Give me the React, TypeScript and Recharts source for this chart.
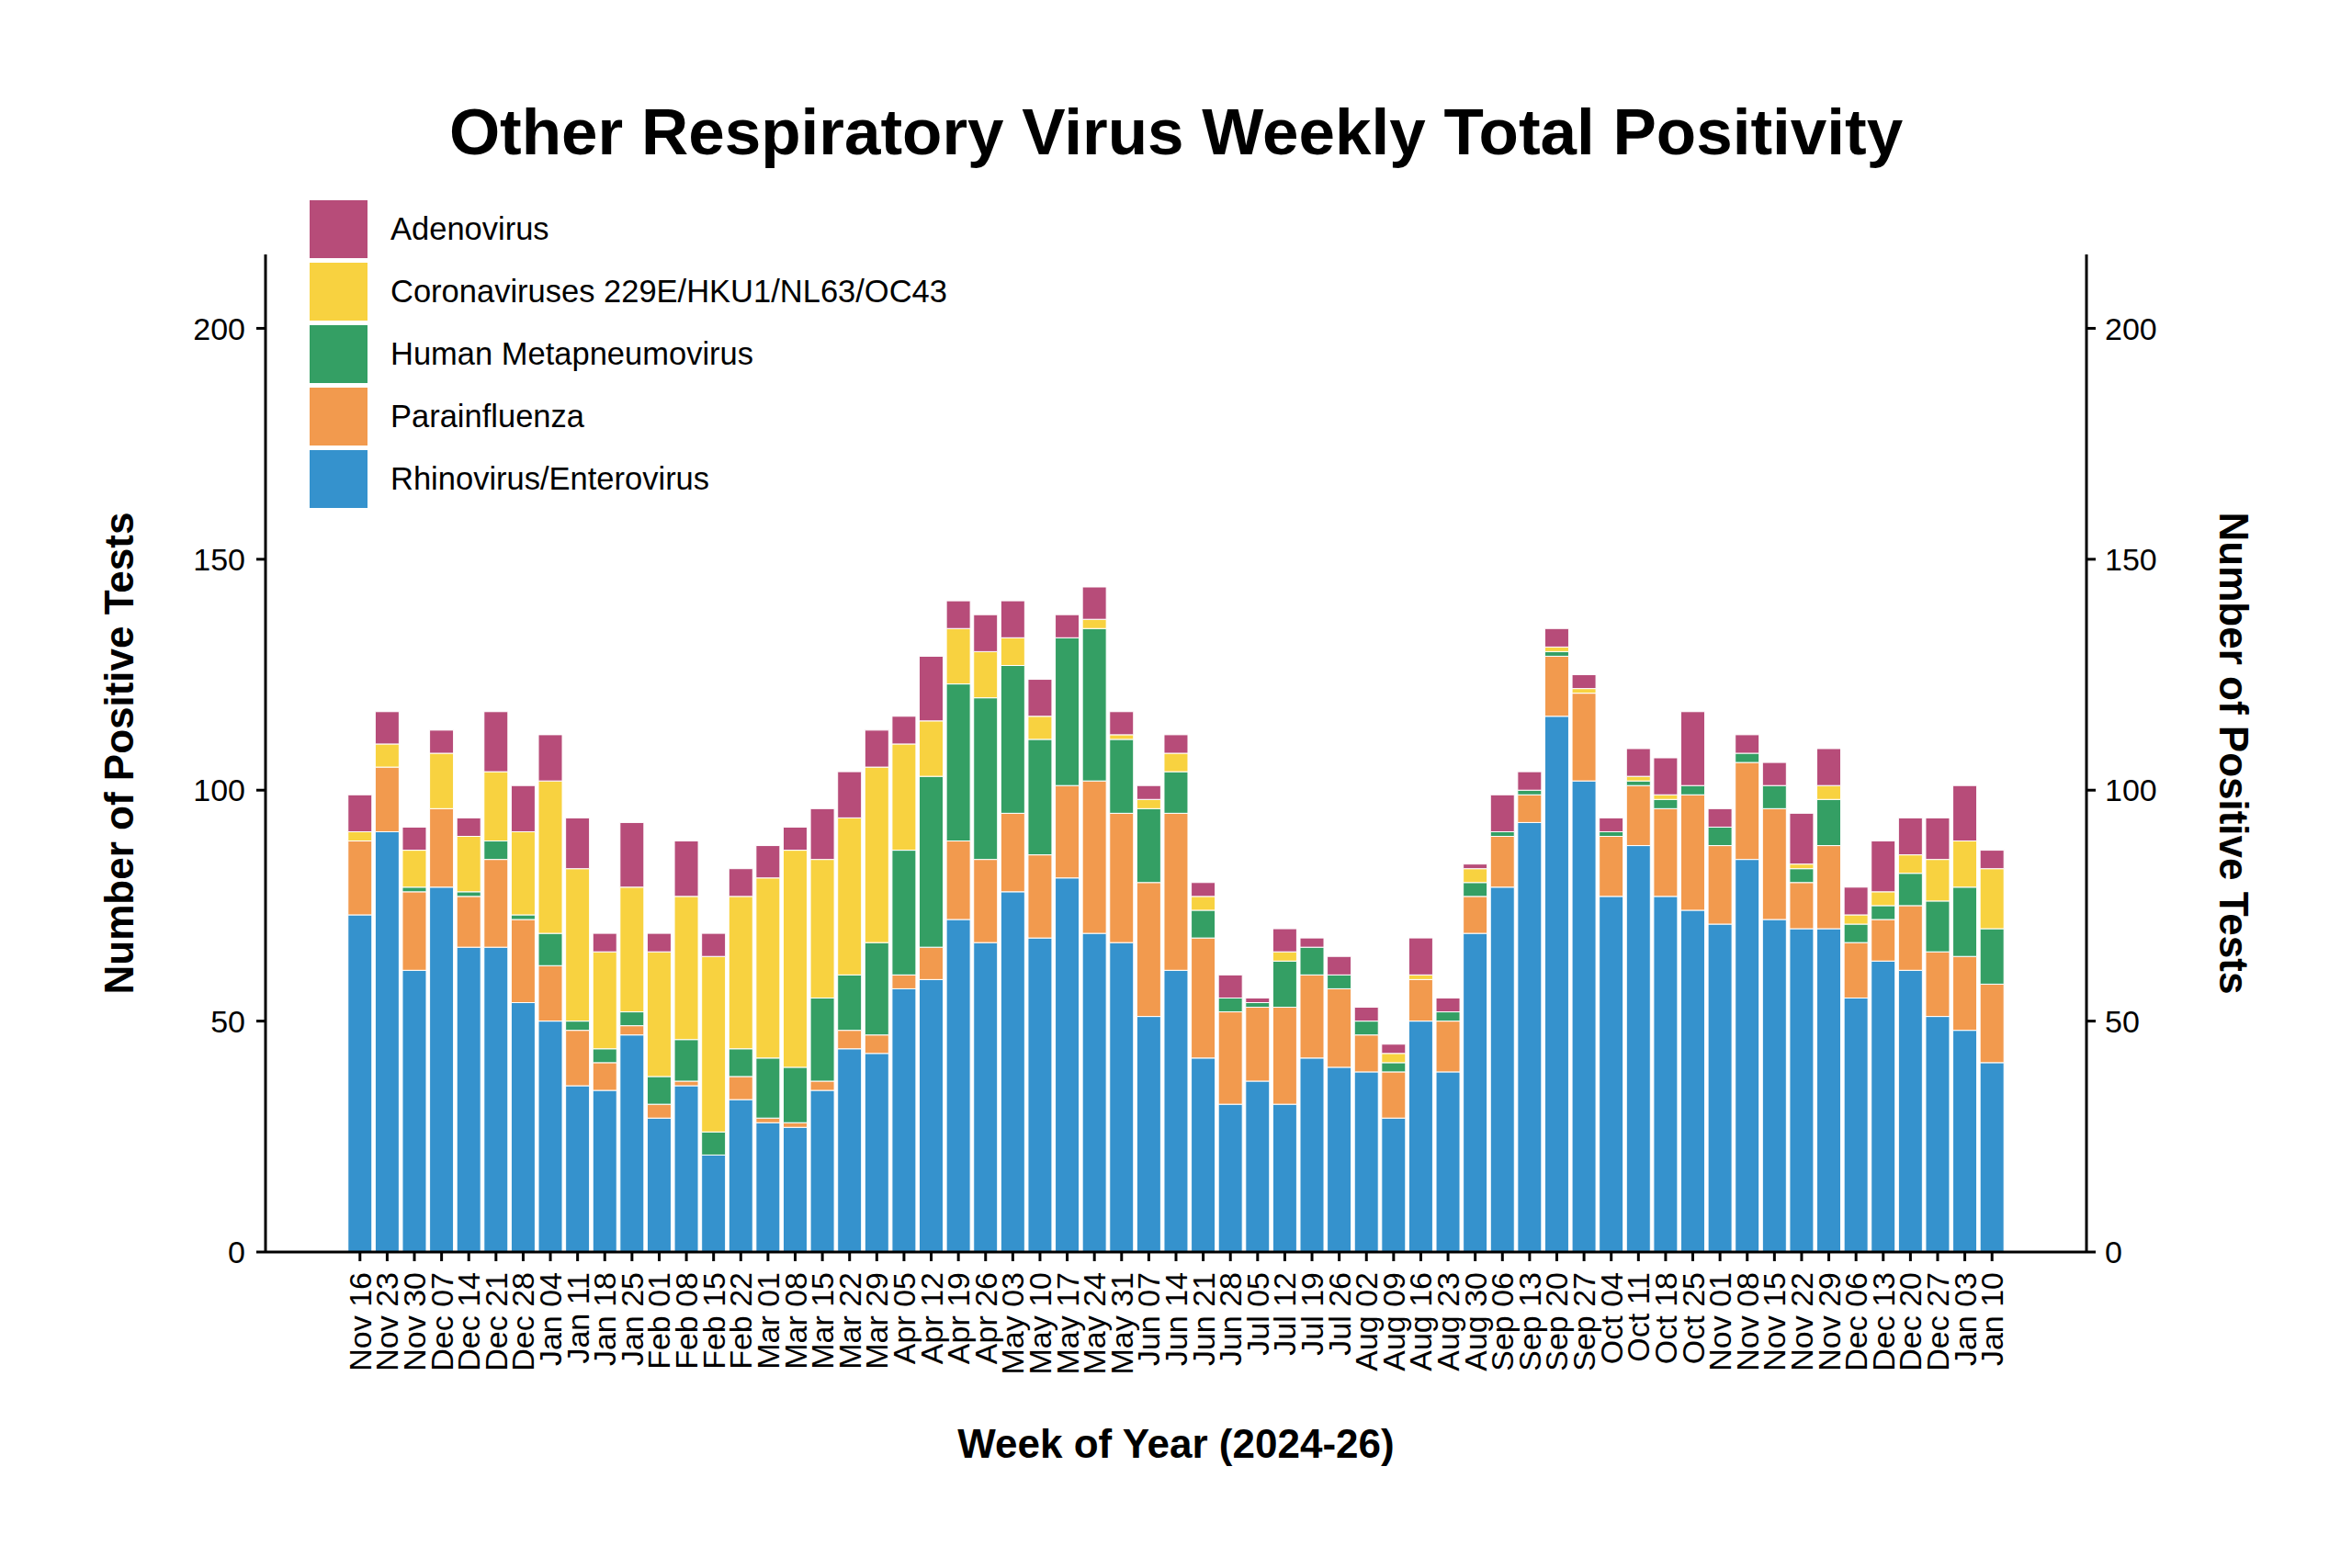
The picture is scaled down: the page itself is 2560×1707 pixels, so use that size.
import React from 'react'
import { BarChart, Bar, XAxis, YAxis, Legend } from 'recharts'

/* Weekly positive tests for the non-flu respiratory viruses, stacked by virus */

const WEEKS = [
  'Nov 16', 'Nov 23', 'Nov 30', 'Dec 07', 'Dec 14', 'Dec 21', 'Dec 28', 'Jan 04', 'Jan 11', 'Jan 18',
  'Jan 25', 'Feb 01', 'Feb 08', 'Feb 15', 'Feb 22', 'Mar 01', 'Mar 08', 'Mar 15', 'Mar 22', 'Mar 29',
  'Apr 05', 'Apr 12', 'Apr 19', 'Apr 26', 'May 03', 'May 10', 'May 17', 'May 24', 'May 31', 'Jun 07',
  'Jun 14', 'Jun 21', 'Jun 28', 'Jul 05', 'Jul 12', 'Jul 19', 'Jul 26', 'Aug 02', 'Aug 09', 'Aug 16',
  'Aug 23', 'Aug 30', 'Sep 06', 'Sep 13', 'Sep 20', 'Sep 27', 'Oct 04', 'Oct 11', 'Oct 18', 'Oct 25',
  'Nov 01', 'Nov 08', 'Nov 15', 'Nov 22', 'Nov 29', 'Dec 06', 'Dec 13', 'Dec 20', 'Dec 27', 'Jan 03',
  'Jan 10',
]

const RHINO = [
  73, 91, 61, 79, 66, 66, 54, 50, 36, 35,
  47, 29, 36, 21, 33, 28, 27, 35, 44, 43,
  57, 59, 72, 67, 78, 68, 81, 69, 67, 51,
  61, 42, 32, 37, 32, 42, 40, 39, 29, 50,
  39, 69, 79, 93, 116, 102, 77, 88, 77, 74,
  71, 85, 72, 70, 70, 55, 63, 61, 51, 48,
  41,
]

const PARAFLU = [
  16, 14, 17, 17, 11, 19, 18, 12, 12, 6,
  2, 3, 1, 0, 5, 1, 1, 2, 4, 4,
  3, 7, 17, 18, 17, 18, 20, 33, 28, 29,
  34, 26, 20, 16, 21, 18, 17, 8, 10, 9,
  11, 8, 11, 6, 13, 19, 13, 13, 19, 25,
  17, 21, 24, 10, 18, 12, 9, 14, 14, 16,
  17,
]

const HMPV = [
  0, 0, 1, 0, 1, 4, 1, 7, 2, 3,
  3, 6, 9, 5, 6, 13, 12, 18, 12, 20,
  27, 37, 34, 35, 32, 25, 32, 33, 16, 16,
  9, 6, 3, 1, 10, 6, 3, 3, 2, 0,
  2, 3, 1, 1, 1, 0, 1, 1, 2, 2,
  4, 2, 5, 3, 10, 4, 3, 7, 11, 15,
  12,
]

const CORONA = [
  2, 5, 8, 12, 12, 15, 18, 33, 33, 21,
  27, 27, 31, 38, 33, 39, 47, 30, 34, 38,
  23, 12, 12, 10, 6, 5, 0, 2, 1, 2,
  4, 3, 0, 0, 2, 0, 0, 0, 2, 1,
  0, 3, 0, 0, 1, 1, 0, 1, 1, 0,
  0, 0, 0, 1, 3, 2, 3, 4, 9, 10,
  13,
]

const ADENO = [
  8, 7, 5, 5, 4, 13, 10, 10, 11, 4,
  14, 4, 12, 5, 6, 7, 5, 11, 10, 8,
  6, 14, 6, 8, 8, 8, 5, 7, 5, 3,
  4, 3, 5, 1, 5, 2, 4, 3, 2, 8,
  3, 1, 8, 4, 4, 3, 3, 6, 8, 16,
  4, 4, 5, 11, 8, 6, 11, 8, 9, 12,
  4,
]

const Y_TICKS = [0, 50, 100, 150, 200]

// stack order, bottom to top
const SERIES = [
  { key: 'rhino', name: 'Rhinovirus/Enterovirus', color: '#3592CD', values: RHINO },
  { key: 'paraflu', name: 'Parainfluenza', color: '#F29A4E', values: PARAFLU },
  { key: 'hmpv', name: 'Human Metapneumovirus', color: '#349F64', values: HMPV },
  { key: 'corona', name: 'Coronaviruses 229E/HKU1/NL63/OC43', color: '#F8D240', values: CORONA },
  { key: 'adeno', name: 'Adenovirus', color: '#B74C79', values: ADENO },
]

const chartData = WEEKS.map((week, i) => {
  const row: Record<string, string | number> = { week }
  SERIES.forEach((s) => {
    row[s.key] = s.values[i]
  })
  return row
})

const FONT = '"Liberation Sans", Arial, Helvetica, sans-serif'
const AXIS_STROKE = { stroke: '#000', strokeWidth: 3 }

function WeekTick({ x, y, payload }: any) {
  return (
    <text
      transform={`translate(${x},${y}) rotate(-90)`}
      textAnchor="end"
      dominantBaseline="central"
      fontSize={34}
      fill="#000"
    >
      {payload.value}
    </text>
  )
}

function YTitle({ viewBox, side }: any) {
  const { x, y, width, height } = viewBox
  const cx = side === 'left' ? x + width - 160 : x + 160
  const cy = y + height / 2
  return (
    <text
      transform={`translate(${cx},${cy}) rotate(${side === 'left' ? -90 : 90})`}
      textAnchor="middle"
      dominantBaseline="central"
      fontSize={44}
      fontWeight={700}
      fill="#000"
    >
      Number of Positive Tests
    </text>
  )
}

function XTitle({ viewBox }: any) {
  const { x, y, width } = viewBox
  return (
    <text x={x + width / 2} y={y + 224} textAnchor="middle" fontSize={44} fontWeight={700} fill="#000">
      Week of Year (2024-26)
    </text>
  )
}

// legend lists the top of the stack first
function VirusLegend() {
  const items = [...SERIES].reverse()
  return (
    <div style={{ display: 'flex', flexDirection: 'column', gap: 5 }}>
      {items.map((s) => (
        <div key={s.key} style={{ display: 'flex', alignItems: 'center', height: 63 }}>
          <span style={{ display: 'inline-block', width: 63, height: 63, background: s.color, marginRight: 25 }} />
          <span style={{ fontSize: 34.5, color: '#000', whiteSpace: 'nowrap' }}>{s.name}</span>
        </div>
      ))}
    </div>
  )
}

export default function App() {
  return (
    <div style={{ position: 'absolute', left: 0, top: 0, width: 2560, height: 1707, background: '#fff', fontFamily: FONT }}>
      <BarChart
        width={2560}
        height={1707}
        data={chartData}
        margin={{ top: 277, right: 80, bottom: 94, left: 80 }}
        barCategoryGap="6%"
      >
        <XAxis
          dataKey="week"
          interval={0}
          padding={{ left: 88, right: 88 }}
          height={250}
          axisLine={AXIS_STROKE}
          tickLine={AXIS_STROKE}
          tickSize={10}
          tickMargin={12}
          tick={<WeekTick />}
          label={<XTitle />}
        />
        <YAxis
          yAxisId="left"
          width={209}
          domain={[0, 216]}
          ticks={Y_TICKS}
          allowDataOverflow
          axisLine={AXIS_STROKE}
          tickLine={AXIS_STROKE}
          tickSize={10}
          tickMargin={12}
          tick={{ fill: '#000', fontSize: 34 }}
          label={<YTitle side="left" />}
        />
        <YAxis
          yAxisId="right"
          orientation="right"
          width={209}
          domain={[0, 216]}
          ticks={Y_TICKS}
          allowDataOverflow
          axisLine={AXIS_STROKE}
          tickLine={AXIS_STROKE}
          tickSize={10}
          tickMargin={10}
          tick={{ fill: '#000', fontSize: 34 }}
          label={<YTitle side="right" />}
        />
        <Legend
          layout="vertical"
          align="center"
          verticalAlign="middle"
          content={<VirusLegend />}
          wrapperStyle={{ left: 337, top: 218, width: 'auto' }}
        />
        {SERIES.map((s) => (
          <Bar
            key={s.key}
            yAxisId="left"
            dataKey={s.key}
            name={s.name}
            stackId="virus"
            fill={s.color}
            stroke="#fff"
            strokeWidth={1}
            isAnimationActive={false}
          />
        ))}
      </BarChart>
      <svg width={2560} height={220} style={{ position: 'absolute', left: 0, top: 0, pointerEvents: 'none' }}>
        <text x={1280} y={168} textAnchor="middle" fontSize={71} fontWeight={700} fill="#000">
          Other Respiratory Virus Weekly Total Positivity
        </text>
      </svg>
    </div>
  )
}
